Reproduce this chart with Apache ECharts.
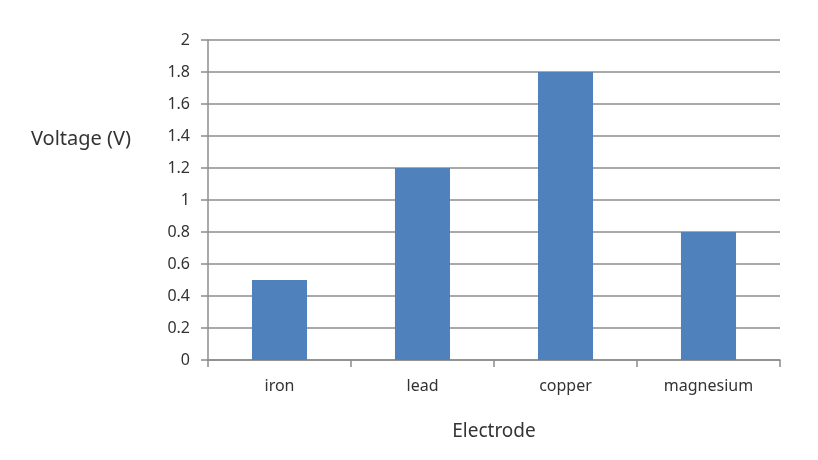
<!DOCTYPE html>
<html><head><meta charset="utf-8">
<script src="https://cdn.jsdelivr.net/npm/echarts@6/dist/echarts.min.js"></script>
<style>html,body{margin:0;padding:0;background:#fff}#c{width:818px;height:460px}</style>
</head><body><div id="c"></div>
<script>
var categories = ['iron', 'lead', 'copper', 'magnesium'];
var voltages = [0.5, 1.2, 1.8, 0.8];
var yTitle = 'Voltage (V)';
var xTitle = 'Electrode';
var font = 'Noto Sans';
var chart = echarts.init(document.getElementById('c'));
chart.setOption({
  animation: false,
  grid: { left: 208, right: 38, top: 40, bottom: 100 },
  graphic: [{ type: 'text', left: 31, top: 129, style: { text: yTitle, font: '20px "Noto Sans"', fill: '#333' } }],
  xAxis: {
    type: 'category', data: categories,
    name: xTitle, nameLocation: 'middle', nameGap: 62,
    nameTextStyle: { fontFamily: font, fontSize: 19, color: '#333' },
    axisLine: { lineStyle: { color: '#8c8c8c', width: 1.5 } },
    axisTick: { show: true, length: 7, alignWithLabel: false, lineStyle: { color: '#8c8c8c', width: 1.5 } },
    axisLabel: { fontFamily: font, fontSize: 16, color: '#333', margin: 18 }
  },
  yAxis: {
    type: 'value', min: 0, max: 2, interval: 0.2,
    axisLine: { show: true, lineStyle: { color: '#8c8c8c', width: 1.5 } },
    axisTick: { show: true, length: 7, lineStyle: { color: '#8c8c8c', width: 1.5 } },
    splitLine: { lineStyle: { color: '#8c8c8c', width: 1.5 } },
    axisLabel: { fontFamily: font, fontSize: 16, color: '#333', margin: 18,
      formatter: function (v) { return String(Math.round(v * 10) / 10); } }
  },
  series: [{ type: 'bar', data: voltages, barWidth: '38.5%', itemStyle: { color: '#4f81bd' } }]
});
</script></body></html>
